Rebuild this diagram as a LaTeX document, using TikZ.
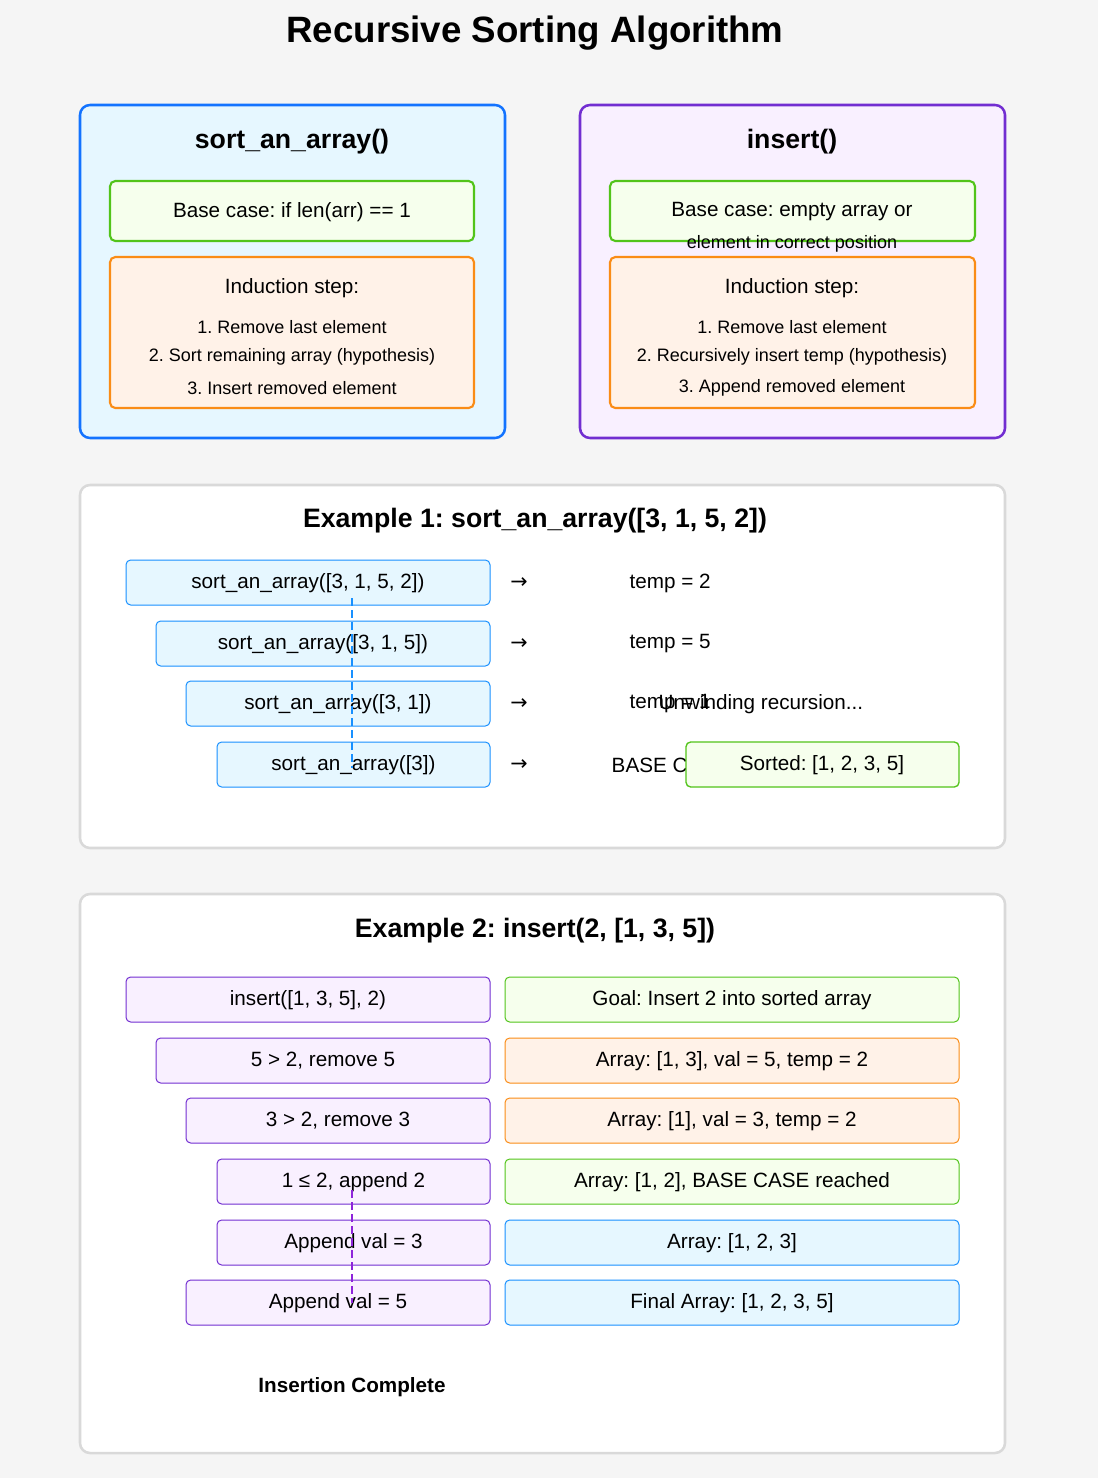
\documentclass[tikz,border=0pt]{standalone}
\usepackage{fontspec}
\setmainfont{Liberation Sans}
\newfontfamily\djv{DejaVu Sans}
\frenchspacing
\begin{document}
\begin{tikzpicture}[x=0.75pt,y=-0.75pt,
  bigbox/.style={rounded corners=7.5pt,line width=1.9pt},
  inbox/.style={rounded corners=4pt,line width=1.6pt},
  rowbox/.style={rounded corners=3.5pt,line width=0.75pt},
  txt/.style={font=\fontsize{15.5}{18}\selectfont},
  small/.style={font=\fontsize{13.5}{16}\selectfont},
  hdr/.style={font=\fontsize{20}{24}\selectfont\bfseries},
  dashline/.style={line width=1.5pt,dash pattern=on 6pt off 3pt}]
\definecolor{bg}{HTML}{F5F5F5}
\definecolor{bluS}{HTML}{1890FF}\definecolor{bluF}{HTML}{E6F7FF}
\definecolor{purS}{HTML}{722ED1}\definecolor{purF}{HTML}{F9F0FF}
\definecolor{grnS}{HTML}{52C41A}\definecolor{grnF}{HTML}{F6FFED}
\definecolor{orgS}{HTML}{FA8C16}\definecolor{orgF}{HTML}{FFF2E8}
\definecolor{gryS}{HTML}{D9D9D9}
\fill[bg] (0,0) rectangle (1098,1478);
\useasboundingbox (0,0) rectangle (1098,1478);
\node[font=\fontsize{27.5}{32}\selectfont\bfseries] (title) at (535,33) {Recursive Sorting Algorithm};
% top boxes
\draw[bigbox,draw=bluS!80!blue,fill=bluF] (80,105) rectangle (505,438);
\draw[bigbox,draw=purS,fill=purF] (580,105) rectangle (1005,438);
\node[hdr] (h1) at (292,142) {sort\_an\_array()};
\node[hdr] (h2) at (792,142) {insert()};
\draw[inbox,draw=grnS,fill=grnF] (110,181) rectangle (474,241);
\draw[inbox,draw=orgS,fill=orgF] (110,257) rectangle (474,408);
\draw[inbox,draw=grnS,fill=grnF] (610,181) rectangle (975,241);
\draw[inbox,draw=orgS,fill=orgF] (610,257) rectangle (975,408);
\node[txt] (b1) at (292,212) {Base case: if len(arr) == 1};
\node[txt] (b2) at (792,212) {Base case: empty array or};
\node[small] (b2b) at (792,244) {element in correct position};
\node[txt] (i1) at (292,288) {Induction step:};
\node[small] (i1a) at (292,327) {1. Remove last element};
\node[small] (i1b) at (292,357) {2. Sort remaining array (hypothesis)};
\node[small] (i1c) at (292,388) {3. Insert removed element};
\node[txt] (i2) at (792,288) {Induction step:};
\node[small] (i2a) at (792,327) {1. Remove last element};
\node[small] (i2b) at (792,357) {2. Recursively insert temp (hypothesis)};
\node[small] (i2c) at (792,388) {3. Append removed element};
% example 1
\draw[bigbox,draw=gryS,fill=white] (80,485) rectangle (1005,848);
\node[hdr] (e1) at (535,521) {Example 1: sort\_an\_array([3, 1, 5, 2])};
\foreach \l/\y/\t/\n in {126/560/{sort\_an\_array([3, 1, 5, 2])}/r1,156/621/{sort\_an\_array([3, 1, 5])}/r2,186/681/{sort\_an\_array([3, 1])}/r3,217/742/{sort\_an\_array([3])}/r4}{
  \draw[rowbox,draw=bluS,fill=bluF] (\l,\y) rectangle (490,\y+45);
  \node[txt] (\n) at ({(\l+490)/2},\y+23) {\t};
  \node[txt] (\n a) at (519,\y+23) {\djv →};
}
\node[txt,anchor=west] (t1) at (625,583) {temp = 2};
\node[txt,anchor=west] (t2) at (625,644) {temp = 5};
\node[txt,anchor=west] (t3) at (625,704) {temp = 1};
\node[txt,anchor=west] (t4) at (607,765) {BASE CASE};
\node[txt,anchor=west] (uw) at (654,704) {Unwinding recursion...};
\draw[rowbox,draw=grnS,fill=grnF,line width=1pt] (686,742) rectangle (959,787);
\node[txt] (sorted) at (822,765) {Sorted: [1, 2, 3, 5]};
\coordinate (d1a) at (352,598);\coordinate (d1b) at (352,768);
\draw[dashline,draw=bluS] (d1a) -- (d1b);
% example 2
\draw[bigbox,draw=gryS,fill=white] (80,894) rectangle (1005,1453);
\node[hdr] (e2) at (535,931) {Example 2: insert(2, [1, 3, 5])};
\foreach \l/\y/\t/\n in {126/977/{insert([1, 3, 5], 2)}/p1,156/1038/{5 > 2, remove 5}/p2,186/1098/{3 > 2, remove 3}/p3,217/1159/{1 ≤ 2, append 2}/p4,217/1220/{Append val = 3}/p5,186/1280/{Append val = 5}/p6}{
  \draw[rowbox,draw=purS,fill=purF] (\l,\y) rectangle (490,\y+45);
  \node[txt] (\n) at ({(\l+490)/2},\y+23) {\t};
}
\foreach \y/\t/\s/\f/\n in {977/{Goal: Insert 2 into sorted array}/grnS/grnF/q1,1038/{Array: [1, 3], val = 5, temp = 2}/orgS/orgF/q2,1098/{Array: [1], val = 3, temp = 2}/orgS/orgF/q3,1159/{Array: [1, 2], BASE CASE reached}/grnS/grnF/q4,1220/{Array: [1, 2, 3]}/bluS/bluF/q5,1280/{Final Array: [1, 2, 3, 5]}/bluS/bluF/q6}{
  \draw[rowbox,draw=\s,fill=\f] (505,\y) rectangle (959,\y+45);
  \node[txt] (\n) at (732,\y+23) {\t};
}
\coordinate (d2a) at (352,1190);\coordinate (d2b) at (352,1303);
\draw[dashline,draw=purS!80!magenta] (d2a) -- (d2b);
\node[font=\fontsize{15.5}{18}\selectfont\bfseries] (done) at (352,1387) {Insertion Complete};
\end{tikzpicture}
\end{document}
